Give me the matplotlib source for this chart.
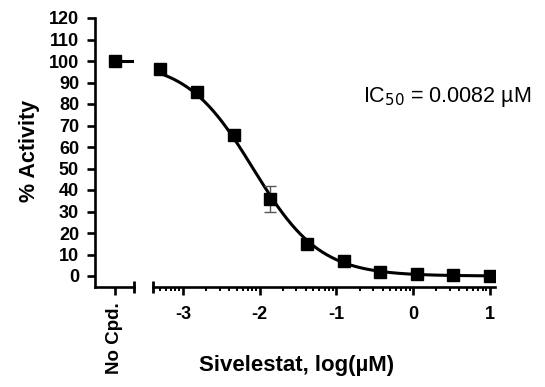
import numpy as np
import matplotlib
matplotlib.use("Agg")
import matplotlib.pyplot as plt
from matplotlib.ticker import FixedLocator

plt.rcParams['font.family'] = ['Liberation Sans', 'DejaVu Sans']

# data: 3-fold dilution from 10 uM, log10(uM)
log_conc = [1.0, 0.523, 0.046, -0.431, -0.908, -1.386, -1.863, -2.340, -2.817, -3.294]
activity = [0.2, 0.3, 1.0, 2.0, 7.0, 14.7, 36.0, 65.8, 85.6, 96.2]
act_err = [0.3, 0.3, 0.4, 0.5, 0.8, 1.2, 6.0, 1.5, 1.2, 1.0]
no_cpd_val = 100.0
no_cpd_err = 2.0

# fit parameters (4PL)
top, bottom, ic50, hill = 100.0, 0.0, 0.0082, 1.0
log_ic50 = np.log10(ic50)

def model(x):
    return bottom + (top - bottom) / (1 + 10 ** ((x - log_ic50) * hill))

W, H = 545, 387
fig = plt.figure(figsize=(W / 100, H / 100), dpi=100)

y_top, y_bot = 18, 286.75
ax1 = fig.add_axes([95 / W, 1 - y_bot / H, (134 - 95) / W, (y_bot - y_top) / H])
ax2 = fig.add_axes([153 / W, 1 - y_bot / H, (495 - 153) / W, (y_bot - y_top) / H])

lw_spine = 1.9
for ax in (ax1, ax2):
    ax.set_ylim(-5, 120)
    ax.spines['top'].set_visible(False)
    ax.spines['right'].set_visible(False)
    for s in ax.spines.values():
        s.set_linewidth(lw_spine)
    ax.tick_params(width=lw_spine, length=6, labelsize=13)
ax2.spines['left'].set_visible(False)

# left panel: No compound
ax1.set_xlim(0, 1)
ax1.errorbar([0.5], [no_cpd_val], yerr=[no_cpd_err], fmt='s', color='black',
             ms=8.5, ecolor='#555555', elinewidth=1, capsize=4)
ax1.plot([0.5, 0.97], [model(-6), model(-6)], color='black', lw=2.2)
ax1.set_xticks([0.5])
ax1.set_xticklabels(['No Cpd.'], rotation=90, fontweight='bold', fontsize=13.5)
ax1.tick_params(axis='x', pad=5)
ax1.tick_params(axis='y', pad=5.5)
ax1.set_yticks(np.arange(0, 121, 10))
for lab in ax1.get_yticklabels():
    lab.set_fontweight('bold')
ax1.plot([1], [0], transform=ax1.transAxes, marker='|', ms=9, mew=2,
         color='black', clip_on=False)

# right panel: dose response
ax2.set_xlim(-3.39, 1.065)
xs = np.linspace(min(log_conc), max(log_conc), 300)
ax2.plot(xs, model(xs), color='black', lw=2.2, zorder=2)
ax2.errorbar(log_conc, activity, yerr=act_err, fmt='s', color='black',
             ms=8.5, ecolor='#555555', elinewidth=1, capsize=4, zorder=3)
ax2.set_yticks([])
ax2.set_xticks([-3, -2, -1, 0, 1])
ax2.set_xticklabels(['-3', '-2', '-1', '0', '1'], fontweight='bold')
ax2.tick_params(axis='x', pad=8)
minor = [d + np.log10(k) for d in range(-4, 1) for k in range(2, 10)]
minor = [m for m in minor if -3.39 <= m <= 1.065]
ax2.xaxis.set_minor_locator(FixedLocator(minor))
ax2.tick_params(axis='x', which='minor', length=3.2, width=1.4)
ax2.plot([0], [0], transform=ax2.transAxes, marker='|', ms=9, mew=2,
         color='black', clip_on=False)

fig.text(363 / W, 1 - 97 / H, 'IC$_{50}$ = 0.0082 µM', fontsize=15.5,
         ha='left', va='center')

fig.text(29 / W, 1 - 151 / H, '% Activity', rotation=90, ha='center', va='center',
         fontsize=15.5, fontweight='bold')
fig.text(297 / W, 1 - 366 / H, 'Sivelestat, log(µM)', ha='center', va='center',
         fontsize=16, fontweight='bold')

fig.savefig('out.png', dpi=100)
